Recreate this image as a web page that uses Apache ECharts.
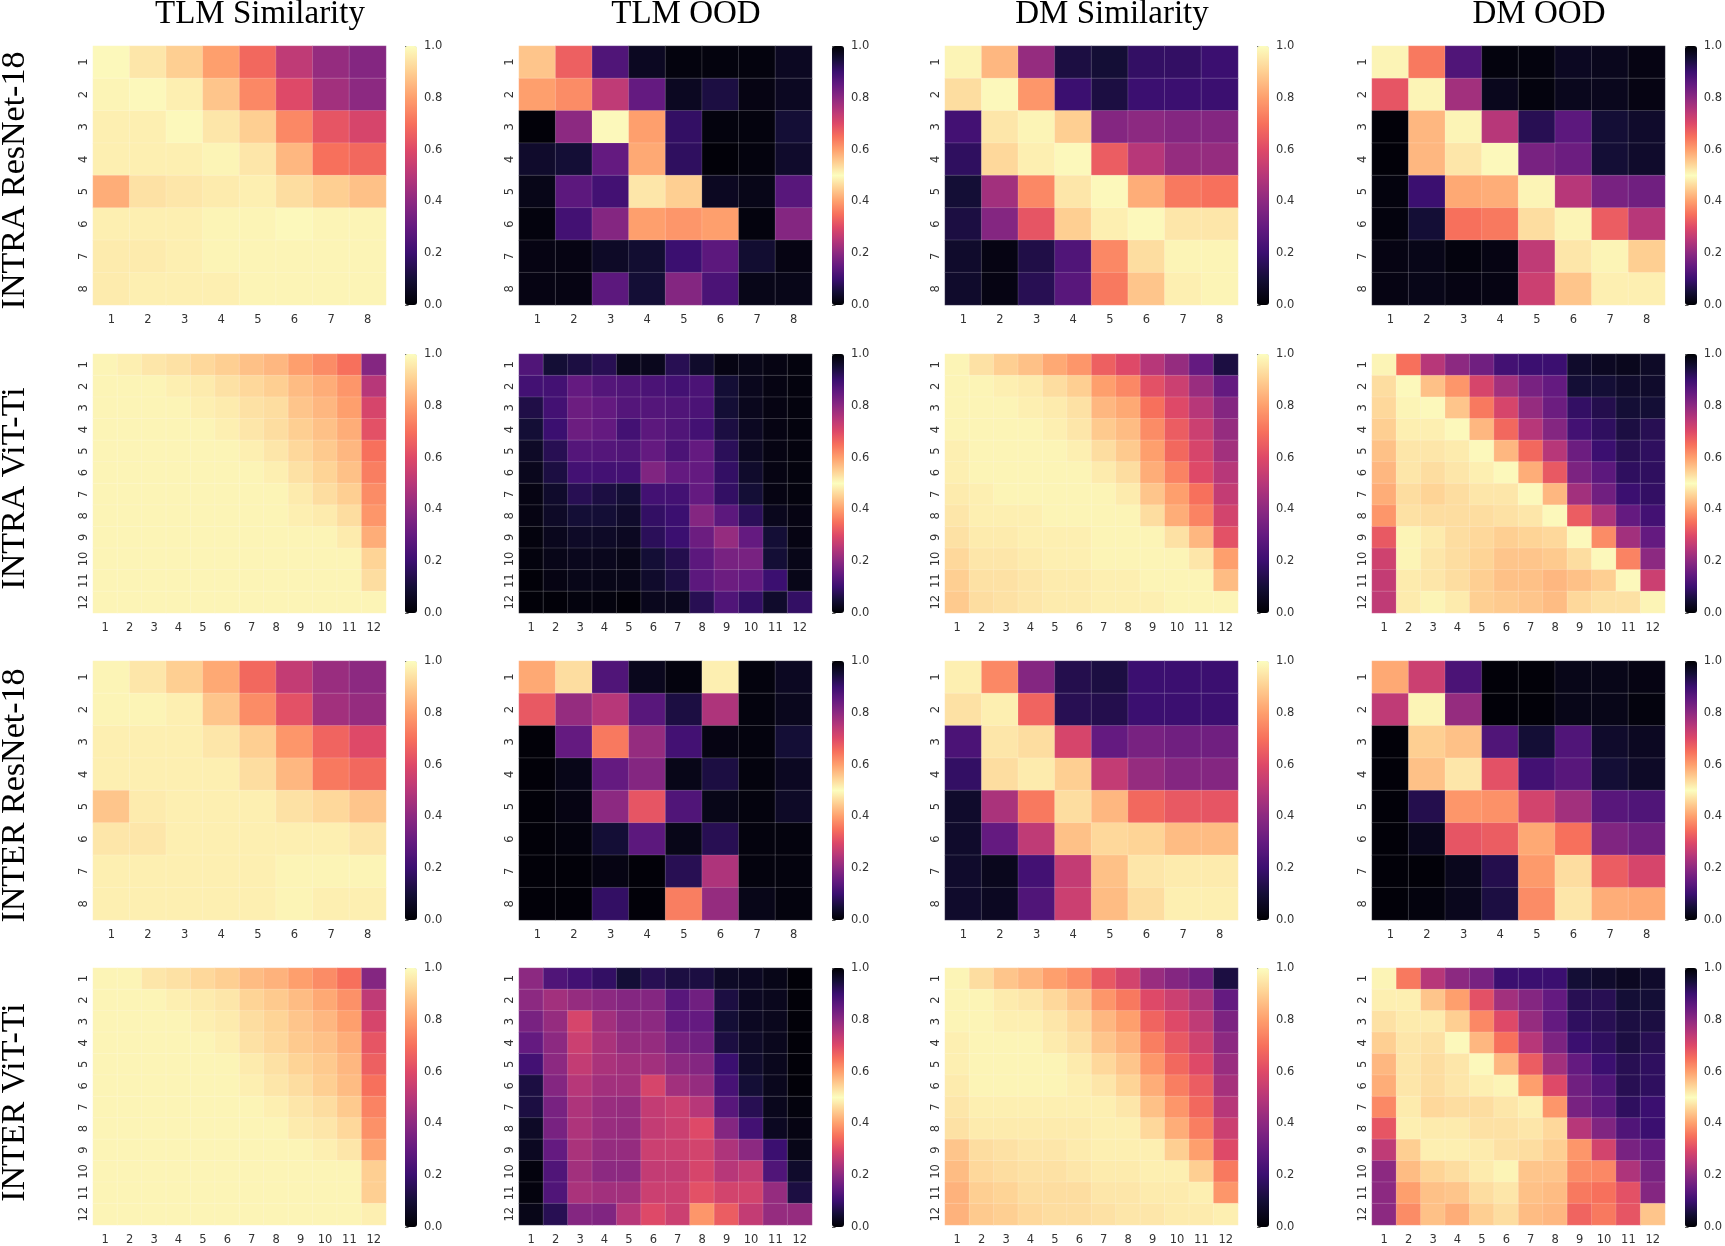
<!DOCTYPE html>
<html><head><meta charset="utf-8">
<script src="https://cdn.jsdelivr.net/npm/echarts@6/dist/echarts.min.js"></script>
<style>html,body{margin:0;padding:0;background:#fff}#c{width:1725px;height:1246px}</style>
</head><body><div id="c"></div>
<script>
const colTitles = ['TLM Similarity', 'TLM OOD', 'DM Similarity', 'DM OOD'];
const rowTitles = ['INTRA ResNet-18', 'INTRA ViT-Ti', 'INTER ResNet-18', 'INTER ViT-Ti'];
const colorbarTicks = [0, 0.2, 0.4, 0.6, 0.8, 1.0];

// ---- Row 1: INTRA ResNet-18 (8 x 8) ----
const tlmSimIntraRes = [
 [0.99,0.95,0.90,0.80,0.68,0.52,0.42,0.38],
 [0.98,0.99,0.97,0.88,0.75,0.60,0.45,0.40],
 [0.97,0.97,0.99,0.95,0.90,0.75,0.63,0.58],
 [0.97,0.97,0.97,0.98,0.95,0.85,0.70,0.68],
 [0.83,0.94,0.95,0.96,0.97,0.93,0.90,0.87],
 [0.97,0.97,0.97,0.98,0.98,0.99,0.98,0.98],
 [0.96,0.96,0.97,0.98,0.98,0.98,0.98,0.98],
 [0.96,0.97,0.97,0.97,0.98,0.98,0.98,0.98]];
const tlmOodIntraRes = [
 [0.44,0.33,0.125,0.03,0.01,0.01,0.01,0.03],
 [0.40,0.38,0.26,0.15,0.03,0.06,0.015,0.03],
 [0.005,0.20,0.495,0.40,0.09,0.01,0.01,0.05],
 [0.04,0.05,0.15,0.41,0.085,0.005,0.01,0.04],
 [0.02,0.14,0.11,0.475,0.45,0.03,0.02,0.135],
 [0.01,0.11,0.19,0.40,0.39,0.40,0.01,0.19],
 [0.015,0.015,0.035,0.045,0.10,0.14,0.045,0.015],
 [0.015,0.015,0.14,0.05,0.19,0.12,0.02,0.02]];
const dmSimIntraRes = [
 [0.98,0.85,0.42,0.12,0.10,0.18,0.18,0.20],
 [0.93,0.99,0.78,0.20,0.12,0.20,0.20,0.20],
 [0.22,0.95,0.98,0.90,0.38,0.40,0.38,0.38],
 [0.17,0.92,0.97,0.99,0.65,0.50,0.42,0.42],
 [0.10,0.45,0.75,0.95,0.99,0.83,0.72,0.70],
 [0.12,0.38,0.63,0.90,0.97,0.99,0.95,0.95],
 [0.08,0.03,0.13,0.25,0.75,0.93,0.98,0.98],
 [0.08,0.03,0.15,0.27,0.72,0.88,0.97,0.98]];
const dmOodIntraRes = [
 [0.49,0.36,0.125,0.01,0.01,0.03,0.025,0.015],
 [0.315,0.49,0.225,0.025,0.01,0.025,0.025,0.015],
 [0.005,0.425,0.49,0.25,0.075,0.14,0.05,0.04],
 [0.005,0.425,0.475,0.495,0.175,0.16,0.05,0.04],
 [0.01,0.10,0.41,0.415,0.49,0.25,0.175,0.165],
 [0.01,0.05,0.35,0.36,0.465,0.49,0.325,0.25],
 [0.015,0.02,0.01,0.015,0.26,0.475,0.49,0.45],
 [0.015,0.02,0.015,0.015,0.275,0.44,0.485,0.485]];

// ---- Row 2: INTRA ViT-Ti (12 x 12) ----
const tlmSimIntraVit = [
 [0.98,0.97,0.95,0.94,0.92,0.90,0.87,0.85,0.80,0.76,0.70,0.38],
 [0.98,0.98,0.98,0.97,0.96,0.94,0.92,0.90,0.86,0.83,0.78,0.50],
 [0.98,0.98,0.98,0.98,0.97,0.96,0.94,0.93,0.88,0.85,0.80,0.58],
 [0.98,0.98,0.98,0.98,0.98,0.97,0.95,0.93,0.90,0.87,0.83,0.62],
 [0.98,0.98,0.98,0.98,0.98,0.98,0.97,0.95,0.92,0.89,0.85,0.70],
 [0.98,0.98,0.98,0.98,0.98,0.98,0.98,0.97,0.94,0.91,0.87,0.73],
 [0.98,0.98,0.98,0.98,0.98,0.98,0.98,0.98,0.96,0.93,0.90,0.76],
 [0.98,0.98,0.98,0.98,0.98,0.98,0.98,0.98,0.97,0.96,0.93,0.78],
 [0.98,0.98,0.98,0.98,0.98,0.98,0.98,0.98,0.98,0.98,0.96,0.83],
 [0.98,0.98,0.98,0.98,0.98,0.98,0.98,0.98,0.98,0.98,0.98,0.91],
 [0.98,0.98,0.98,0.98,0.98,0.98,0.98,0.98,0.98,0.98,0.98,0.93],
 [0.98,0.98,0.98,0.98,0.98,0.98,0.98,0.98,0.98,0.98,0.98,0.98]];
const tlmOodIntraVit = [
 [0.125,0.05,0.06,0.075,0.025,0.025,0.075,0.04,0.015,0.02,0.015,0.01],
 [0.11,0.11,0.15,0.13,0.125,0.12,0.11,0.12,0.05,0.025,0.015,0.01],
 [0.065,0.11,0.16,0.15,0.13,0.13,0.125,0.12,0.05,0.025,0.015,0.01],
 [0.05,0.10,0.16,0.15,0.11,0.14,0.125,0.11,0.06,0.03,0.015,0.01],
 [0.035,0.075,0.13,0.13,0.125,0.15,0.12,0.15,0.08,0.03,0.015,0.01],
 [0.025,0.06,0.11,0.11,0.11,0.185,0.15,0.15,0.09,0.04,0.015,0.01],
 [0.015,0.04,0.075,0.06,0.05,0.11,0.11,0.15,0.09,0.05,0.015,0.01],
 [0.015,0.035,0.05,0.05,0.04,0.09,0.10,0.19,0.14,0.08,0.025,0.015],
 [0.01,0.025,0.035,0.035,0.03,0.08,0.10,0.16,0.21,0.15,0.05,0.015],
 [0.01,0.02,0.025,0.025,0.02,0.05,0.07,0.14,0.175,0.175,0.05,0.02],
 [0.005,0.015,0.02,0.02,0.02,0.04,0.06,0.14,0.16,0.15,0.10,0.02],
 [0.005,0.005,0.01,0.01,0.005,0.025,0.025,0.075,0.125,0.09,0.04,0.09]];
const dmSimIntraVit = [
 [0.98,0.94,0.90,0.87,0.82,0.78,0.66,0.60,0.50,0.42,0.30,0.12],
 [0.98,0.98,0.97,0.96,0.93,0.90,0.80,0.75,0.62,0.55,0.43,0.30],
 [0.98,0.98,0.98,0.97,0.96,0.94,0.85,0.82,0.70,0.60,0.50,0.38],
 [0.98,0.98,0.98,0.98,0.97,0.95,0.89,0.86,0.76,0.65,0.55,0.42],
 [0.97,0.98,0.98,0.98,0.98,0.97,0.93,0.89,0.80,0.68,0.58,0.45],
 [0.97,0.98,0.98,0.98,0.98,0.98,0.96,0.93,0.83,0.74,0.60,0.50],
 [0.96,0.97,0.98,0.98,0.98,0.98,0.98,0.96,0.88,0.80,0.70,0.53],
 [0.95,0.97,0.97,0.97,0.98,0.98,0.98,0.98,0.93,0.83,0.74,0.57],
 [0.94,0.96,0.96,0.97,0.97,0.97,0.98,0.98,0.98,0.94,0.85,0.62],
 [0.92,0.95,0.95,0.96,0.97,0.97,0.98,0.98,0.98,0.98,0.95,0.80],
 [0.90,0.94,0.94,0.95,0.96,0.96,0.97,0.97,0.98,0.98,0.98,0.86],
 [0.89,0.93,0.94,0.95,0.96,0.96,0.97,0.97,0.97,0.98,0.98,0.98]];
const dmOodIntraVit = [
 [0.49,0.35,0.25,0.20,0.165,0.11,0.10,0.10,0.04,0.03,0.025,0.035],
 [0.465,0.495,0.435,0.39,0.29,0.225,0.175,0.15,0.05,0.05,0.04,0.04],
 [0.46,0.49,0.495,0.44,0.36,0.29,0.21,0.16,0.09,0.07,0.05,0.05],
 [0.45,0.485,0.485,0.495,0.425,0.34,0.25,0.19,0.11,0.085,0.06,0.075],
 [0.435,0.475,0.475,0.48,0.495,0.425,0.34,0.25,0.16,0.10,0.075,0.085],
 [0.425,0.475,0.465,0.475,0.485,0.495,0.415,0.32,0.18,0.14,0.085,0.085],
 [0.415,0.465,0.455,0.465,0.475,0.475,0.495,0.425,0.225,0.165,0.10,0.09],
 [0.39,0.47,0.465,0.465,0.465,0.47,0.475,0.495,0.325,0.24,0.15,0.11],
 [0.32,0.49,0.48,0.465,0.46,0.45,0.455,0.46,0.495,0.38,0.225,0.15],
 [0.28,0.49,0.475,0.465,0.455,0.44,0.44,0.445,0.465,0.495,0.37,0.20],
 [0.265,0.48,0.475,0.465,0.45,0.435,0.435,0.425,0.435,0.45,0.495,0.275],
 [0.26,0.48,0.49,0.48,0.45,0.445,0.44,0.43,0.46,0.47,0.47,0.49]];

// ---- Row 3: INTER ResNet-18 (8 x 8) ----
const tlmSimInterRes = [
 [0.98,0.95,0.90,0.82,0.68,0.53,0.43,0.40],
 [0.98,0.98,0.97,0.88,0.76,0.62,0.45,0.42],
 [0.97,0.97,0.97,0.95,0.90,0.78,0.67,0.60],
 [0.97,0.97,0.97,0.97,0.93,0.85,0.72,0.68],
 [0.88,0.96,0.97,0.97,0.97,0.94,0.92,0.88],
 [0.95,0.95,0.97,0.97,0.97,0.97,0.97,0.95],
 [0.97,0.97,0.97,0.97,0.97,0.98,0.98,0.98],
 [0.97,0.97,0.97,0.97,0.97,0.98,0.97,0.97]];
const tlmOodInterRes = [
 [0.41,0.465,0.125,0.025,0.01,0.485,0.01,0.03],
 [0.32,0.21,0.25,0.135,0.06,0.24,0.01,0.025],
 [0.005,0.15,0.36,0.21,0.11,0.015,0.01,0.05],
 [0.005,0.02,0.15,0.19,0.02,0.06,0.01,0.03],
 [0.005,0.015,0.20,0.315,0.125,0.02,0.01,0.035],
 [0.005,0.01,0.05,0.14,0.02,0.075,0.01,0.01],
 [0.005,0.005,0.015,0.005,0.075,0.24,0.01,0.01],
 [0.005,0.005,0.09,0.005,0.365,0.21,0.02,0.01]];
const dmSimInterRes = [
 [0.97,0.75,0.38,0.14,0.12,0.20,0.20,0.20],
 [0.94,0.97,0.67,0.15,0.14,0.20,0.20,0.20],
 [0.24,0.95,0.93,0.58,0.30,0.35,0.33,0.33],
 [0.18,0.93,0.96,0.90,0.53,0.42,0.38,0.38],
 [0.08,0.47,0.72,0.93,0.85,0.68,0.64,0.63],
 [0.08,0.30,0.52,0.87,0.92,0.91,0.86,0.86],
 [0.08,0.05,0.22,0.53,0.87,0.95,0.96,0.96],
 [0.08,0.06,0.25,0.55,0.86,0.93,0.97,0.97]];
const dmOodInterRes = [
 [0.41,0.275,0.12,0.005,0.005,0.02,0.02,0.015],
 [0.26,0.49,0.21,0.005,0.005,0.02,0.02,0.01],
 [0.005,0.45,0.435,0.125,0.05,0.125,0.04,0.03],
 [0.005,0.435,0.475,0.31,0.11,0.135,0.05,0.035],
 [0.005,0.07,0.39,0.385,0.285,0.225,0.135,0.125],
 [0.005,0.025,0.315,0.325,0.41,0.35,0.185,0.165],
 [0.005,0.005,0.025,0.07,0.395,0.465,0.325,0.29],
 [0.005,0.01,0.025,0.06,0.38,0.475,0.415,0.41]];

// ---- Row 4: INTER ViT-Ti (12 x 12) ----
const tlmSimInterVit = [
 [0.98,0.98,0.95,0.94,0.92,0.90,0.86,0.84,0.80,0.76,0.70,0.38],
 [0.98,0.98,0.98,0.97,0.96,0.95,0.91,0.89,0.86,0.82,0.77,0.52],
 [0.98,0.98,0.98,0.98,0.97,0.96,0.93,0.91,0.88,0.85,0.80,0.58],
 [0.98,0.98,0.98,0.98,0.98,0.97,0.94,0.92,0.89,0.87,0.83,0.63],
 [0.98,0.98,0.98,0.98,0.98,0.98,0.96,0.94,0.91,0.89,0.85,0.66],
 [0.98,0.98,0.98,0.98,0.98,0.98,0.97,0.95,0.93,0.90,0.86,0.70],
 [0.98,0.98,0.98,0.98,0.98,0.98,0.98,0.97,0.95,0.93,0.89,0.74],
 [0.98,0.98,0.98,0.98,0.98,0.98,0.98,0.98,0.96,0.95,0.92,0.77],
 [0.98,0.98,0.98,0.98,0.98,0.98,0.98,0.98,0.98,0.97,0.95,0.81],
 [0.98,0.98,0.98,0.98,0.98,0.98,0.98,0.98,0.98,0.98,0.98,0.90],
 [0.98,0.98,0.98,0.98,0.98,0.98,0.98,0.98,0.98,0.98,0.98,0.90],
 [0.98,0.98,0.98,0.98,0.98,0.98,0.98,0.98,0.98,0.98,0.98,0.97]];
const tlmOodInterVit = [
 [0.20,0.125,0.11,0.09,0.05,0.075,0.06,0.06,0.035,0.03,0.02,0.005],
 [0.20,0.225,0.21,0.20,0.19,0.19,0.135,0.165,0.06,0.03,0.025,0.005],
 [0.175,0.21,0.29,0.225,0.20,0.20,0.15,0.15,0.05,0.03,0.025,0.005],
 [0.15,0.20,0.275,0.235,0.21,0.21,0.175,0.165,0.06,0.035,0.025,0.005],
 [0.11,0.20,0.265,0.235,0.225,0.225,0.20,0.19,0.10,0.04,0.025,0.005],
 [0.06,0.19,0.25,0.225,0.225,0.29,0.225,0.21,0.115,0.05,0.025,0.005],
 [0.06,0.175,0.24,0.215,0.21,0.265,0.275,0.25,0.135,0.075,0.025,0.01],
 [0.035,0.175,0.24,0.215,0.21,0.265,0.275,0.30,0.19,0.11,0.03,0.015],
 [0.03,0.15,0.235,0.21,0.21,0.275,0.275,0.285,0.24,0.20,0.10,0.02],
 [0.01,0.125,0.225,0.20,0.20,0.265,0.265,0.29,0.25,0.265,0.125,0.04],
 [0.01,0.125,0.235,0.225,0.225,0.275,0.275,0.31,0.285,0.285,0.21,0.06],
 [0.02,0.075,0.19,0.185,0.25,0.30,0.275,0.39,0.325,0.265,0.21,0.21]];
const dmSimInterVit = [
 [0.98,0.93,0.88,0.85,0.80,0.76,0.64,0.57,0.43,0.38,0.33,0.12],
 [0.98,0.98,0.96,0.95,0.92,0.88,0.78,0.72,0.60,0.55,0.48,0.30],
 [0.98,0.98,0.97,0.97,0.95,0.92,0.85,0.80,0.67,0.60,0.52,0.36],
 [0.97,0.98,0.98,0.98,0.96,0.94,0.88,0.84,0.73,0.64,0.56,0.40],
 [0.97,0.98,0.98,0.98,0.98,0.96,0.92,0.88,0.78,0.68,0.60,0.43],
 [0.96,0.98,0.98,0.98,0.98,0.97,0.95,0.91,0.83,0.73,0.65,0.46],
 [0.95,0.97,0.97,0.97,0.97,0.97,0.97,0.95,0.87,0.78,0.68,0.50],
 [0.94,0.96,0.96,0.96,0.96,0.96,0.97,0.97,0.92,0.83,0.73,0.55],
 [0.88,0.93,0.94,0.95,0.95,0.96,0.97,0.97,0.97,0.90,0.80,0.60],
 [0.86,0.92,0.93,0.94,0.94,0.95,0.96,0.96,0.97,0.97,0.90,0.72],
 [0.84,0.90,0.91,0.93,0.93,0.93,0.95,0.95,0.96,0.96,0.97,0.78],
 [0.84,0.89,0.90,0.92,0.93,0.93,0.94,0.95,0.95,0.96,0.96,0.97]];
const dmOodInterVit = [
 [0.49,0.36,0.25,0.20,0.175,0.10,0.10,0.10,0.05,0.04,0.03,0.04],
 [0.485,0.485,0.44,0.40,0.31,0.225,0.19,0.15,0.075,0.075,0.05,0.05],
 [0.47,0.48,0.48,0.45,0.375,0.30,0.21,0.15,0.085,0.075,0.06,0.06],
 [0.45,0.475,0.47,0.495,0.425,0.35,0.25,0.18,0.10,0.085,0.06,0.075],
 [0.425,0.475,0.465,0.475,0.495,0.425,0.325,0.225,0.15,0.10,0.075,0.085],
 [0.415,0.475,0.465,0.475,0.485,0.49,0.40,0.30,0.165,0.125,0.075,0.085],
 [0.375,0.48,0.46,0.465,0.465,0.475,0.485,0.39,0.175,0.14,0.085,0.10],
 [0.315,0.485,0.48,0.48,0.47,0.47,0.475,0.46,0.25,0.185,0.125,0.10],
 [0.26,0.45,0.485,0.485,0.48,0.47,0.465,0.45,0.39,0.285,0.175,0.15],
 [0.20,0.43,0.455,0.465,0.48,0.49,0.44,0.44,0.38,0.375,0.24,0.175],
 [0.20,0.40,0.435,0.44,0.465,0.475,0.435,0.43,0.36,0.35,0.31,0.19],
 [0.20,0.38,0.435,0.415,0.45,0.465,0.43,0.425,0.335,0.36,0.315,0.44]];

const panels = [
  [tlmSimIntraRes, tlmOodIntraRes, dmSimIntraRes, dmOodIntraRes],
  [tlmSimIntraVit, tlmOodIntraVit, dmSimIntraVit, dmOodIntraVit],
  [tlmSimInterRes, tlmOodInterRes, dmSimInterRes, dmOodInterRes],
  [tlmSimInterVit, tlmOodInterVit, dmSimInterVit, dmOodInterVit]
];
const isOod = [false, true, false, true];

// magma colormap stops (0 .. 1)
const magma = ['#000004','#140e36','#3b0f70','#641a80','#8c2981','#b73779','#de4968','#f7705c','#fe9f6d','#fecf92','#fcfdbf'];
const oodColors = magma.concat(magma.slice(0, 10).reverse());

// layout
const colLeft = [93, 519, 945, 1372];
const rowTop = [46, 354, 661, 968];
const W = 293, H = 259;
const cbLeft = [405, 832, 1257, 1685];
const cbW = 12;

const grid = [], xAxis = [], yAxis = [], series = [], graphic = [], visualMap = [];
const tickFont = 'DejaVu Sans';
const tickColor = '#333';

for (let r = 0; r < 4; r++) {
  for (let c = 0; c < 4; c++) {
    const mat = panels[r][c];
    const n = mat.length;
    const cats = Array.from({length: n}, (_, i) => String(i + 1));
    const data = [];
    for (let i = 0; i < n; i++) for (let j = 0; j < n; j++) data.push([j, i, mat[i][j]]);
    const gi = grid.length;
    grid.push({left: colLeft[c], top: rowTop[r], width: W, height: H, containLabel: false});
    const xi = xAxis.length;
    xAxis.push({type: 'category', gridIndex: gi, data: cats,
      axisLine: {show: false}, axisTick: {show: false}, splitLine: {show: false},
      axisLabel: {fontSize: 11.5, fontFamily: tickFont, color: tickColor, margin: 9, interval: 0}});
    const yi = yAxis.length;
    yAxis.push({type: 'category', gridIndex: gi, data: cats, inverse: true,
      axisLine: {show: false}, axisTick: {show: false}, splitLine: {show: false},
      axisLabel: {fontSize: 11.5, fontFamily: tickFont, color: tickColor, margin: 3, rotate: 90, interval: 0}});
    const si = series.length;
    series.push({type: 'heatmap', xAxisIndex: xi, yAxisIndex: yi, data: data,
      itemStyle: {borderColor: 'rgba(255,255,255,0.28)', borderWidth: 0.6},
      emphasis: {disabled: true}, progressive: 0});

    // colorbar: gradient from the visualMap, ticks from a value axis
    visualMap.push({type: 'continuous', min: 0, max: 1, dimension: 2, seriesIndex: si,
      inRange: {color: isOod[c] ? oodColors : magma},
      left: cbLeft[c], top: rowTop[r], itemWidth: cbW, itemHeight: H, padding: 0,
      calculable: false, hoverLink: false, orient: 'vertical'});
    const cg = grid.length;
    grid.push({left: cbLeft[c], top: rowTop[r], width: cbW, height: H});
    xAxis.push({type: 'value', gridIndex: cg, min: 0, max: 1, show: false});
    yAxis.push({type: 'value', gridIndex: cg, position: 'right', min: 0, max: 1, interval: 0.2,
      axisLine: {show: false}, splitLine: {show: false},
      axisTick: {show: true, length: 3.5, lineStyle: {color: tickColor, width: 0.8}},
      axisLabel: {fontSize: 11.5, fontFamily: tickFont, color: tickColor, margin: 7,
        formatter: v => v.toFixed(1)}});
  }
}

colTitles.forEach((t, c) => {
  graphic.push({type: 'text', x: colLeft[c] + 167, y: 14,
    style: {text: t, fontSize: 33, fontFamily: 'Liberation Serif', fill: '#000',
      align: 'center', verticalAlign: 'middle'}});
});
rowTitles.forEach((t, r) => {
  graphic.push({type: 'text', x: 15, y: rowTop[r] + H / 2 + 5, rotation: Math.PI / 2,
    style: {text: t, fontSize: 34, fontFamily: 'Liberation Serif', fill: '#000',
      align: 'center', verticalAlign: 'middle'}});
});

const chart = echarts.init(document.getElementById('c'), null, {renderer: 'canvas'});
chart.setOption({
  backgroundColor: '#fff',
  animation: false,
  grid, xAxis, yAxis, series, graphic, visualMap
});
</script>
</body></html>
